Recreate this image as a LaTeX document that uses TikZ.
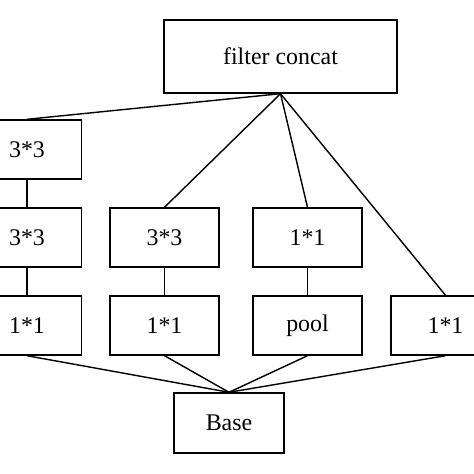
\documentclass[tikz,border=0pt]{standalone}
\usepackage{fontspec}
\setmainfont{Liberation Serif}
\usepackage{tikz}

\begin{document}
\begin{tikzpicture}[line width=0.8pt,
        box/.style={draw, minimum width=2.18cm, minimum height=1.18cm, inner sep=0pt},
        font=\fontsize{13.6}{16}\selectfont]
            \clip (0, 0) rectangle (9.48, -9.48);
            \node[box, minimum width=4.66cm, minimum height=1.46cm] (top) at (5.61, -1.13) {filter concat};
            \node[box] (10) at (0.54, -2.99) {3*3};
            \node[box] (20) at (0.54, -4.75) {3*3};
            \node[box] (21) at (3.29, -4.75) {3*3};
            \node[box] (22) at (6.15, -4.75) {1*1};
            \node[box] (30) at (0.54, -6.51) {1*1};
            \node[box] (31) at (3.29, -6.51) {1*1};
            \node[box] (32) at (6.15, -6.51) {pool};
            \node[box] (33) at (8.91, -6.51) {1*1};
            \node[box, minimum width=2.2cm, minimum height=1.2cm] (base) at (4.58, -8.46) {Base};
            \draw (top.south) -- (10.north);
            \draw (top.south) -- (21.north);
            \draw (top.south) -- (22.north);
            \draw (top.south) -- (33.north);
            \draw (10) -- (20);
            \draw (20) -- (30);
            \draw (21) -- (31);
            \draw (22) -- (32);
            \draw (30.south) -- (base.north);
            \draw (31.south) -- (base.north);
            \draw (32.south) -- (base.north);
            \draw (33.south) -- (base.north);
        \end{tikzpicture}
\end{document}
